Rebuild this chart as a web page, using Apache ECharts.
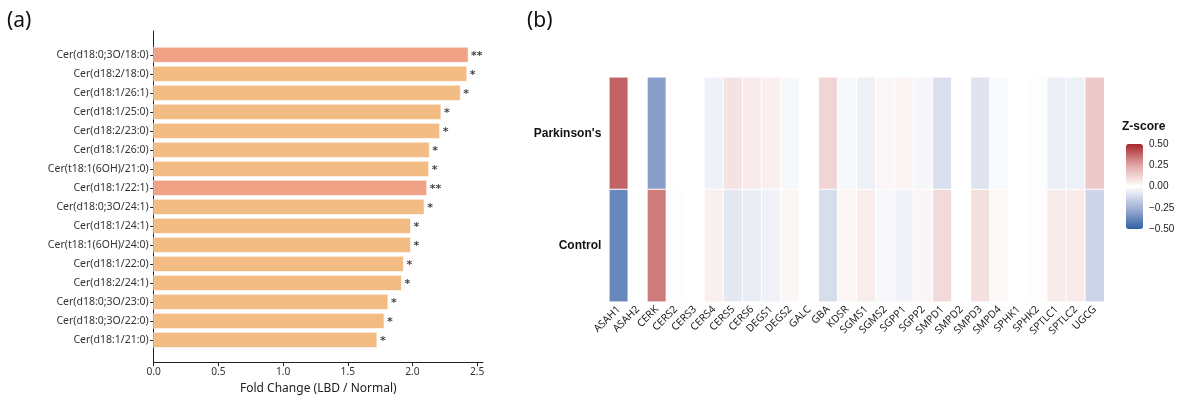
<!DOCTYPE html>
<html>
<head>
<meta charset="utf-8">
<script src="https://cdn.jsdelivr.net/npm/echarts@6/dist/echarts.min.js"></script>
<style>html,body{margin:0;padding:0;background:#fff}#c{width:1200px;height:406px}</style>
</head>
<body>
<div id="c"></div>
<script>
// ---- Panel (a) data ----
const categories = ['Cer(d18:0;3O/18:0)', 'Cer(d18:2/18:0)', 'Cer(d18:1/26:1)', 'Cer(d18:1/25:0)', 'Cer(d18:2/23:0)', 'Cer(d18:1/26:0)', 'Cer(t18:1(6OH)/21:0)', 'Cer(d18:1/22:1)', 'Cer(d18:0;3O/24:1)', 'Cer(d18:1/24:1)', 'Cer(t18:1(6OH)/24:0)', 'Cer(d18:1/22:0)', 'Cer(d18:2/24:1)', 'Cer(d18:0;3O/23:0)', 'Cer(d18:0;3O/22:0)', 'Cer(d18:1/21:0)'];
const foldChange = [2.43, 2.42, 2.37, 2.22, 2.21, 2.13, 2.125, 2.11, 2.09, 1.985, 1.985, 1.93, 1.915, 1.81, 1.78, 1.725];
const significance = ['**', '*', '*', '*', '*', '*', '*', '**', '*', '*', '*', '*', '*', '*', '*', '*'];
const fcTicks = [0, 0.5, 1, 1.5, 2, 2.5];

// ---- Panel (b) data ----
const genes = ['ASAH1', 'ASAH2', 'CERK', 'CERS2', 'CERS3', 'CERS4', 'CERS5', 'CERS6', 'DEGS1', 'DEGS2', 'GALC', 'GBA', 'KDSR', 'SGMS1', 'SGMS2', 'SGPP1', 'SGPP2', 'SMPD1', 'SMPD2', 'SMPD3', 'SMPD4', 'SPHK1', 'SPHK2', 'SPTLC1', 'SPTLC2', 'UGCG'];
const groups = ['Control', "Parkinson's"];
const zParkinson = [0.38, 0, -0.31, 0, 0, -0.045, 0.08, 0.06, 0.045, -0.023, 0, 0.12, -0.023, -0.05, 0.025, 0.03, -0.027, -0.105, 0, -0.09, -0.02, 0, -0.008, -0.053, -0.05, 0.155];
const zControl = [-0.38, 0, 0.335, 0.005, 0, 0.045, -0.077, -0.063, -0.043, 0.023, 0, -0.113, 0.027, 0.052, -0.023, -0.04, 0.029, 0.105, 0, 0.09, 0.02, 0, 0.008, 0.055, 0.058, -0.14];
const zTicks = [0.5, 0.25, 0, -0.25, -0.5];
const zTickLabels = ['0.50', '0.25', '0.00', '\u22120.25', '\u22120.50'];

const COLOR_SIG2 = '#EFA286';
const COLOR_SIG1 = '#F3BC85';

const barData = foldChange.map((v, i) => ({
  value: [v, i],
  itemStyle: { color: significance[i] === '**' ? COLOR_SIG2 : COLOR_SIG1 }
}));
const starData = foldChange.map((v, i) => ({ value: [v, i], label: { formatter: significance[i] } }));

const heatData = [];
genes.forEach((g, i) => {
  heatData.push([i, 1, zParkinson[i]]);
  heatData.push([i, 0, zControl[i]]);
});

const chart = echarts.init(document.getElementById('c'), null, { renderer: 'canvas' });
const F = 'Noto Sans';
const FA = 'Liberation Sans';

chart.setOption({
  animation: false,
  backgroundColor: '#fff',
  title: [
    { text: '(a)', left: 7, top: 11, padding: 0, textStyle: { fontFamily: F, fontSize: 21, fontWeight: 'normal', color: '#111' } },
    { text: '(b)', left: 527, top: 11, padding: 0, textStyle: { fontFamily: F, fontSize: 21, fontWeight: 'normal', color: '#111' } },
    { text: 'Z-score', left: 1122, top: 121, padding: 0, textStyle: { fontFamily: FA, fontSize: 12, fontWeight: 'bold', color: '#111' } }
  ],
  grid: [
    { left: 153.7, top: 31, width: 329.3, height: 331.6, containLabel: false },
    { left: 609.3, top: 77.3, width: 495, height: 224.4, containLabel: false },
    { left: 1126, top: 144, width: 17, height: 85, containLabel: false }
  ],
  xAxis: [
    {
      gridIndex: 0, type: 'value', min: 0, max: 2.545,
      axisLine: { show: true, onZero: false, lineStyle: { color: '#222', width: 1 } },
      axisTick: { show: true, length: 3.5, lineStyle: { color: '#222' }, customValues: fcTicks },
      axisLabel: { customValues: fcTicks, margin: 5, fontFamily: F, fontSize: 10.2, color: '#333', formatter: v => v.toFixed(1) },
      splitLine: { show: false },
      name: 'Fold Change (LBD / Normal)', nameLocation: 'middle', nameGap: 16,
      nameTextStyle: { fontFamily: F, fontSize: 12, color: '#222' }
    },
    {
      gridIndex: 1, type: 'category', data: genes,
      axisLine: { show: false }, axisTick: { show: false }, splitLine: { show: false },
      axisLabel: { rotate: 45, interval: 0, margin: 6, fontFamily: F, fontSize: 10.4, color: '#222' }
    },
    { gridIndex: 2, type: 'value', show: false }
  ],
  yAxis: [
    {
      gridIndex: 0, type: 'value', min: -1.25, max: 16.19, inverse: true,
      axisLine: { show: true, onZero: false, lineStyle: { color: '#222', width: 1 } },
      axisTick: { show: true, length: 3.5, lineStyle: { color: '#222' }, customValues: categories.map((c, i) => i) },
      axisLabel: { customValues: categories.map((c, i) => i), margin: 5, fontFamily: F, fontSize: 10.5, color: '#333', formatter: v => categories[Math.round(v)] },
      splitLine: { show: false }
    },
    {
      gridIndex: 1, type: 'category', data: groups,
      axisLine: { show: false }, axisTick: { show: false }, splitLine: { show: false },
      axisLabel: { margin: 8, fontFamily: FA, fontSize: 12, fontWeight: 'bold', color: '#111' }
    },
    {
      gridIndex: 2, type: 'value', position: 'right', min: -0.5, max: 0.5, z: 10,
      axisLine: { show: false },
      axisTick: { show: true, inside: true, length: 3, customValues: zTicks.slice(1, 4), lineStyle: { color: 'rgba(255,255,255,0.7)' } },
      axisLabel: { customValues: zTicks, margin: 6, fontFamily: FA, fontSize: 10, color: '#222',
        formatter: v => zTickLabels[zTicks.findIndex(t => Math.abs(t - v) < 1e-9)] },
      splitLine: { show: false }
    }
  ],
  visualMap: {
    type: 'continuous', seriesIndex: 1, min: -0.5, max: 0.5,
    left: 1126, top: 144, itemWidth: 17, itemHeight: 85, padding: 0,
    calculable: false, showLabel: false, text: null, hoverLink: false,
    inRange: { color: ['#3060a2', '#a5b3d6', '#ffffff', '#e0a8a6', '#a7262b'] }
  },
  series: [
    {
      type: 'custom', xAxisIndex: 0, yAxisIndex: 0,
      encode: { x: 0, y: 1 },
      data: barData,
      renderItem: (params, api) => {
        const v = api.value(0), y = api.value(1);
        const p0 = api.coord([0, y - 0.4]);
        const p1 = api.coord([v, y + 0.4]);
        const top = Math.min(p0[1], p1[1]);
        const h = Math.abs(p1[1] - p0[1]);
        return {
          type: 'rect', shape: { x: p0[0], y: top, width: p1[0] - p0[0], height: h },
          style: api.style({ stroke: 'rgba(255,255,255,0.6)', lineWidth: 1 })
        };
      }
    },
    {
      type: 'heatmap', xAxisIndex: 1, yAxisIndex: 1,
      data: heatData,
      itemStyle: { borderColor: '#fff', borderWidth: 1 },
      emphasis: { disabled: true }
    },
    {
      type: 'scatter', xAxisIndex: 0, yAxisIndex: 0,
      data: starData, symbol: 'circle', symbolSize: 0,
      itemStyle: { color: 'transparent' },
      silent: true,
      label: { show: true, position: 'right', distance: 3, offset: [0, 1],
        fontFamily: 'DejaVu Sans', fontWeight: 'bold', fontSize: 11, color: '#111' },
      emphasis: { disabled: true }
    }
  ]
});
</script>
</body>
</html>
